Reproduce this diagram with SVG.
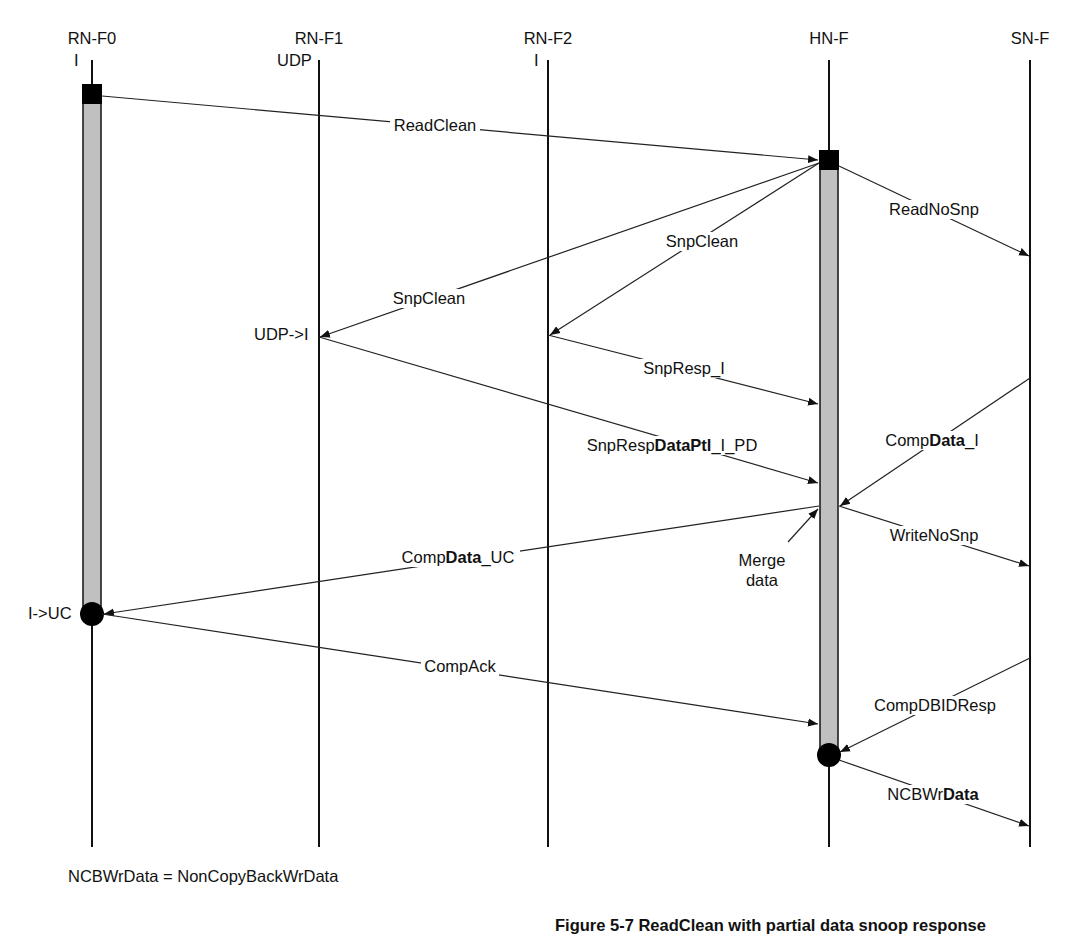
<svg xmlns="http://www.w3.org/2000/svg" width="1080" height="949" viewBox="0 0 1080 949">
<style>
text{font-family:"Liberation Sans",Arial,sans-serif;font-size:16.5px;fill:#111}
.h{text-anchor:middle}
.l{stroke:#111;stroke-width:2}
.a{stroke:#222;stroke-width:1.2;fill:none;marker-end:url(#ah)}
.lb{text-anchor:middle}
.bg{fill:#fff}
.bar{fill:#c0c0c0;stroke:#111;stroke-width:1.5}
</style>
<defs><marker id="ah" viewBox="0 0 10 10" refX="10" refY="5" markerWidth="10" markerHeight="10" markerUnits="userSpaceOnUse" orient="auto"><path d="M0,1 L10,5 L0,9 z" fill="#111"/></marker></defs>
<rect width="1080" height="949" fill="#fff"/>
<g id="rnf0"><text class="h" x="92" y="44">RN-F0</text><text x="74" y="66">I</text><line class="l" x1="92" y1="60" x2="92" y2="847"/><rect class="bar" x="83" y="96" width="18" height="518"/><rect x="82" y="84" width="20" height="20" fill="#000"/><circle cx="92" cy="614" r="12" fill="#000"/><text x="28" y="619">I-&gt;UC</text></g>
<g id="rnf1"><text class="h" x="319" y="44">RN-F1</text><text x="277" y="66">UDP</text><line class="l" x1="319" y1="60" x2="319" y2="847"/><text x="254" y="340">UDP-&gt;I</text></g>
<g id="rnf2"><text class="h" x="548" y="44">RN-F2</text><text x="534" y="66">I</text><line class="l" x1="548" y1="60" x2="548" y2="847"/></g>
<g id="hnf"><text class="h" x="829" y="44">HN-F</text><line class="l" x1="829" y1="60" x2="829" y2="847"/><rect class="bar" x="820" y="162" width="18" height="593"/><rect x="819" y="150" width="20" height="20" fill="#000"/><circle cx="829" cy="755" r="12" fill="#000"/></g>
<g id="snf"><text class="h" x="1030" y="44">SN-F</text><line class="l" x1="1030" y1="60" x2="1030" y2="847"/></g>
<g id="connectors">
<line class="a" x1="102" y1="96" x2="818" y2="160"/>
<line class="a" x1="839" y1="166" x2="1029" y2="256"/>
<line class="a" x1="819" y1="163" x2="550" y2="335"/>
<line class="a" x1="819" y1="163" x2="320" y2="337"/>
<line class="a" x1="548" y1="335" x2="818" y2="404"/>
<line class="a" x1="319" y1="337" x2="818" y2="483"/>
<line class="a" x1="1030" y1="378" x2="840" y2="506"/>
<line class="a" x1="839" y1="506" x2="1029" y2="566"/>
<line class="a" x1="819" y1="506" x2="104" y2="614"/>
<line class="a" x1="788" y1="542" x2="818" y2="509"/>
<line class="a" x1="102" y1="614" x2="818" y2="724"/>
<line class="a" x1="1030" y1="658" x2="840" y2="752"/>
<line class="a" x1="839" y1="760" x2="1029" y2="826"/>
<g class="bg">
<rect x="390" y="116" width="90" height="19"/><rect x="886" y="200" width="96" height="19"/>
<rect x="662" y="232" width="80" height="19"/><rect x="389" y="289" width="80" height="19"/>
<rect x="638" y="359" width="92" height="19"/><rect x="594" y="436" width="156" height="19"/>
<rect x="884" y="431" width="96" height="19"/><rect x="885" y="526" width="98" height="19"/>
<rect x="398" y="548" width="122" height="19"/><rect x="736" y="550" width="52" height="40"/>
<rect x="421" y="657" width="78" height="19"/><rect x="870" y="696" width="130" height="19"/>
<rect x="883" y="785" width="100" height="19"/>
</g>
<text class="lb" x="435" y="131">ReadClean</text>
<text class="lb" x="934" y="215">ReadNoSnp</text>
<text class="lb" x="702" y="247">SnpClean</text>
<text class="lb" x="429" y="304">SnpClean</text>
<text class="lb" x="684" y="374">SnpResp_I</text>
<text class="lb" x="672" y="451">SnpResp<tspan font-weight="bold">DataPtl</tspan>_I_PD</text>
<text class="lb" x="932" y="446">Comp<tspan font-weight="bold">Data</tspan>_I</text>
<text class="lb" x="934" y="541">WriteNoSnp</text>
<text class="lb" x="458" y="563">Comp<tspan font-weight="bold">Data</tspan>_UC</text>
<text class="lb" x="762" y="566">Merge</text><text class="lb" x="762" y="586">data</text>
<text class="lb" x="460" y="672">CompAck</text>
<text class="lb" x="935" y="711">CompDBIDResp</text>
<text class="lb" x="933" y="800">NCBWr<tspan font-weight="bold">Data</tspan></text>
</g>
<text x="68" y="882" font-size="17">NCBWrData = NonCopyBackWrData</text>
<text x="555" y="931" font-weight="bold" font-size="20.5">Figure 5-7 ReadClean with partial data snoop response</text>
</svg>
